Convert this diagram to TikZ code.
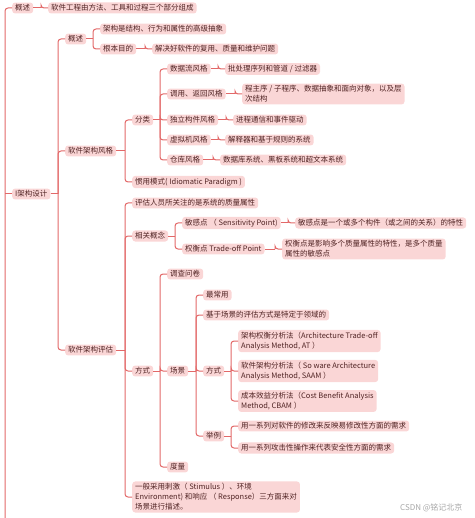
\documentclass[tikz,border=0pt]{standalone}
\usepackage{fontspec}
\setmainfont{Noto Sans CJK SC}
\usetikzlibrary{positioning}

\definecolor{linkred}{RGB}{226,104,104}
\definecolor{boxpink}{RGB}{250,214,214}
\definecolor{inkbrown}{RGB}{80,36,36}

\begin{document}
\begin{tikzpicture}[
x = 1pt, y = -1pt,
topic/.style = {anchor=west, fill=boxpink, rounded corners=3pt, inner xsep=3pt, inner ysep=2pt,
  text=inkbrown, font=\fontsize{7.5}{10}\selectfont, align=left},
link/.style = {draw=linkred, line width=1pt},
arm/.style = {link, rounded corners=3pt}]

\useasboundingbox (0,0) rectangle (474,518);

% top of the map
\node[topic] (ovA) at (12,8) {概述};
\node[topic] (ovAtxt) at (48,8) {软件工程由方法、工具和过程三个部分组成};
\node[topic] (root) at (12,194) {I架构设计};
\coordinate (trunk) at (5,518);

% overview
\node[topic] (ov) at (65,39) {概述};
\node[topic] (abs) at (100,29) {架构是结构、行为和属性的高级抽象};
\node[topic] (goal) at (100,49) {根本目的};
\node[topic] (goaltxt) at (152,49) {解决好软件的复用、质量和维护问题};

% styles
\node[topic] (style) at (65,151) {软件架构风格};
\node[topic] (cls) at (132,120) {分类};
\node[topic] (flow) at (167,69) {数据流风格};
\node[topic] (flowtxt) at (225,69) {批处理序列和管道 / 过滤器};
\node[topic] (call) at (167,94) {调用、返回风格};
\node[topic] (calltxt) at (242,94) {程主序 / 子程序、数据抽象和面向对象，以及层\\次结构};
\node[topic] (indep) at (167,120) {独立构件风格};
\node[topic] (indeptxt) at (233,120) {进程通信和事件驱动};
\node[topic] (vm) at (167,140) {虚拟机风格};
\node[topic] (vmtxt) at (225,140) {解释器和基于规则的系统};
\node[topic] (repo) at (167,160) {仓库风格};
\node[topic] (repotxt) at (220,160) {数据库系统、黑板系统和超文本系统};
\node[topic] (idiom) at (132,182) {惯用模式( Idiomatic Paradigm )};

% evaluation
\node[topic] (eval) at (65,350) {软件架构评估};
\node[topic] (focus) at (132,203) {评估人员所关注的是系统的质量属性};
\node[topic] (concept) at (132,236) {相关概念};
\node[topic] (sens) at (182,223) {敏感点 （ Sensitivity Point)};
\node[topic] (senstxt) at (295,223) {敏感点是一个或多个构件（或之间的关系）的特性};
\node[topic] (trade) at (182,249) {权衡点 Trade-off Point};
\node[topic] (tradetxt) at (282,249) {权衡点是影响多个质量属性的特性，是多个质量\\属性的敏感点};
\node[topic] (way) at (132,371) {方式};
\node[topic] (quest) at (167,274) {调查问卷};
\node[topic] (scene) at (167,371) {场景};
\node[topic] (metric) at (167,467) {度量};
\node[topic] (common) at (203,295) {最常用};
\node[topic] (domain) at (203,315) {基于场景的评估方式是特定于领域的};
\node[topic] (way2) at (203,371) {方式};
\node[topic] (example) at (203,436) {举例};
\node[topic] (atam) at (238,341) {架构权衡分析法（Architecture Trade-off\\Analysis Method, AT ）};
\node[topic] (saam) at (238,371) {软件架构分析法（ So ware Architecture\\Analysis Method, SAAM ）};
\node[topic] (cbam) at (238,401) {成本效益分析法（Cost Benefit Analysis\\Method, CBAM ）};
\node[topic] (ex1) at (238,426) {用一系列对软件的修改来反映易修改性方面的需求};
\node[topic] (ex2) at (238,448) {用一系列攻击性操作来代表安全性方面的需求};
\node[topic] (stim) at (132,497) {一般采用刺激（ Stimulus ）、环境\\Environment) 和响应 （ Response）三方面来对\\场景进行描述。};

\node[anchor=east, text=black!35, font=\fontsize{8}{10}\selectfont] (mark) at (466,508) {CSDN @铭记北京};

% trunk on the left
\draw[arm] (trunk) |- (ovA.west);
\draw[link] (trunk |- root.west) -- (root.west);

% branches
\foreach \src/\dst in {ovA/ovAtxt, root/ov, root/style, root/eval, ov/abs, ov/goal, goal/goaltxt,
  style/cls, style/idiom, cls/flow, cls/call, cls/indep, cls/vm, cls/repo,
  flow/flowtxt, call/calltxt, indep/indeptxt, vm/vmtxt, repo/repotxt,
  eval/focus, eval/concept, eval/way, eval/stim, concept/sens, concept/trade,
  sens/senstxt, trade/tradetxt, way/quest, way/scene, way/metric,
  scene/common, scene/domain, scene/way2, scene/example,
  way2/atam, way2/saam, way2/cbam, example/ex1, example/ex2}
{
  \draw[link] (\src.east) -- ([xshift=-7pt]\dst.west |- \src.east);
  \draw[arm] ([xshift=-7pt]\dst.west |- \src.east) |- (\dst.west);
}
\end{tikzpicture}
\end{document}
